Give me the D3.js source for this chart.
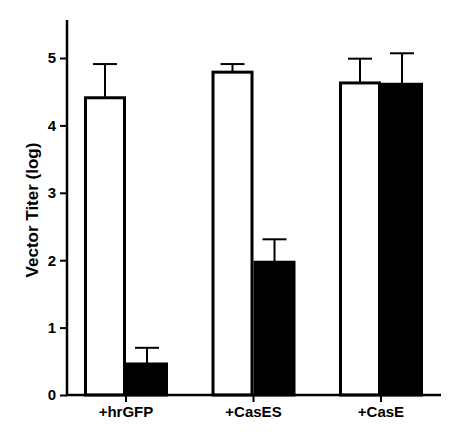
<!DOCTYPE html>
<html><head><script src="https://cdn.jsdelivr.net/npm/d3@7"></script>
<style>body{margin:0;background:#fff}</style></head><body>
<script>
const categories=["+hrGFP","+CasES","+CasE"];
const whiteValues=[4.41,4.79,4.63];
const whiteErrors=[0.50,0.12,0.36];
const blackValues=[0.46,1.97,4.61];
const blackErrors=[0.24,0.34,0.46];
const yTicks=[0,1,2,3,4,5];

const W=474,H=446;
const svg=d3.select("body").append("svg").attr("width",W).attr("height",H);
const y=d3.scaleLinear().domain([0,5]).range([395,58]);
const x=d3.scalePoint().domain(categories).range([126,381]);
const bw=42;
const font="Liberation Sans, Arial, sans-serif";
function center(c){return x(c);}
const g=svg.append("g");
const series=[{v:whiteValues,e:whiteErrors,fill:"#fff",off:-bw},{v:blackValues,e:blackErrors,fill:"#000",off:0}];
series.forEach(s=>{
  categories.forEach((c,i)=>{
    const x0=center(c)+s.off;
    const top=y(s.v[i]),et=y(s.v[i]+s.e[i]);
    g.append("line").attr("x1",x0+bw/2).attr("x2",x0+bw/2).attr("y1",top).attr("y2",et).attr("stroke","#000").attr("stroke-width",2);
    g.append("line").attr("x1",x0+bw/2-12).attr("x2",x0+bw/2+12).attr("y1",et).attr("y2",et).attr("stroke","#000").attr("stroke-width",2);
    g.append("rect").attr("x",x0+1.5).attr("y",top).attr("width",bw-3).attr("height",y(0)-top)
      .attr("fill",s.fill).attr("stroke","#000").attr("stroke-width",3);
  });
});
const ya=svg.append("g").attr("transform","translate(67,0)")
  .call(d3.axisLeft(y).tickValues(yTicks).tickFormat(d3.format("d")).tickSize(7).tickSizeOuter(0));
ya.select(".domain").attr("d","M0,20V395").attr("stroke-width",2.5);
ya.selectAll(".tick line").attr("stroke-width",2);
ya.selectAll("text").attr("font-family",font).attr("font-size",15).attr("font-weight","bold").attr("x",-11);
svg.append("line").attr("x1",66).attr("x2",441).attr("y1",395).attr("y2",395).attr("stroke","#000").attr("stroke-width",2.5);
categories.forEach(c=>{
  svg.append("line").attr("x1",center(c)).attr("x2",center(c)).attr("y1",395).attr("y2",402).attr("stroke","#000").attr("stroke-width",2);
  svg.append("text").attr("x",center(c)).attr("y",417).attr("text-anchor","middle")
    .attr("font-family",font).attr("font-size",15).attr("font-weight","bold").text(c);
});
svg.append("text").attr("transform","translate(38,210) rotate(-90)").attr("text-anchor","middle")
  .attr("font-family",font).attr("font-size",17).attr("font-weight","bold").text("Vector Titer (log)");
</script></body></html>
